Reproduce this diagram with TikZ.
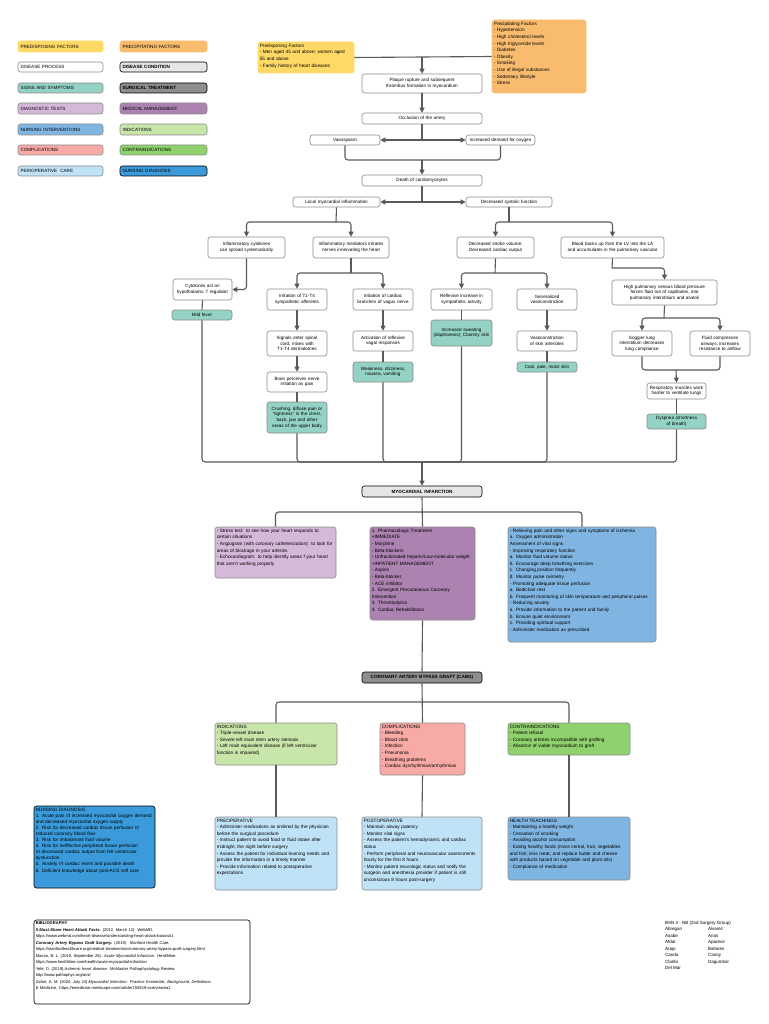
\documentclass[tikz,border=0pt]{standalone}
\usepackage{fontspec}
\setmainfont{Liberation Sans}
\usetikzlibrary{arrows.meta}
\definecolor{cPre}{HTML}{FFD966}
\definecolor{cPrec}{HTML}{F9BC6E}
\definecolor{cSS}{HTML}{93D2C4}
\definecolor{cDT}{HTML}{D5B9D9}
\definecolor{cMM}{HTML}{AC82B0}
\definecolor{cNI}{HTML}{80B5E2}
\definecolor{cInd}{HTML}{C8E6AA}
\definecolor{cCon}{HTML}{8FD16C}
\definecolor{cCom}{HTML}{F8ABA6}
\definecolor{cPeri}{HTML}{C0E2F6}
\definecolor{cND}{HTML}{3B9BDA}
\definecolor{cSur}{HTML}{8E8E8E}
\definecolor{cDC}{HTML}{E6E6E6}
\definecolor{cLine}{HTML}{5A5A5A}
\newcommand\nohy{\hyphenpenalty=10000 \exhyphenpenalty=10000 }
\newcommand\bx[7]{\pgfmathsetmacro\myw{#5-#3}\pgfmathsetmacro\myh{#6-#4}\pgfmathsetmacro\mytw{#5-#3-5}%
\node[box,#2,minimum width=\myw pt,minimum height=\myh pt,text width=\mytw pt] (#1) at ({(#3+#5)/2},{(#4+#6)/2}) {#7};}
\newcommand\lx[7]{\pgfmathsetmacro\myw{#5-#3}\pgfmathsetmacro\myh{#6-#4}\pgfmathsetmacro\mytw{#5-#3-5}%
\node[box,#2,minimum width=\myw pt,minimum height=\myh pt] (#1) at ({(#3+#5)/2},{(#4+#6)/2}) {};
\node[box,lfont,#2,draw=none,fill=none,align=left,anchor=north west,text width=\mytw pt] (#1t) at (#1.north west) {#7};}
\begin{document}
\begin{tikzpicture}[x=1pt,y=-1pt,
 box/.style={draw=cLine!70,line width=0.6pt,rounded corners=2.5pt,fill=white,inner sep=1.8pt,align=center,font={\fontsize{4.6}{5.6}\selectfont\nohy}},
 lfont/.style={font={\fontsize{4.7}{6.6}\selectfont\nohy}},
 leg/.style={box,align=left,font={\fontsize{4.6}{5}\selectfont}},
 ln/.style={draw=cLine,line width=1.1pt,rounded corners=3pt},
 arr/.style={ln,-{Triangle[length=5pt,width=5pt]}}]
\useasboundingbox[fill=white] (0,0) rectangle (768,1024);
% legend
\bx{l1}{leg,fill=cPre,draw=cPre}{18}{41}{103}{52}{PREDISPOSING FACTORS}
\bx{l2}{leg}{18}{62}{103}{72}{DISEASE PROCESS}
\bx{l3}{leg,fill=cSS}{18}{83}{103}{93}{SIGNS AND SYMPTOMS}
\bx{l4}{leg,fill=cDT}{18}{103}{103}{114}{DIAGNOSTIC TESTS}
\bx{l5}{leg,fill=cNI}{18}{124}{103}{135}{NURSING INTERVENTIONS}
\bx{l6}{leg,fill=cCom}{18}{145}{103}{155}{COMPLICATIONS}
\bx{l7}{leg,fill=cPeri}{18}{166}{103}{176}{PERIOPERATIVE\ \ CARE}
\bx{r1}{leg,fill=cPrec,draw=cPrec}{120}{41}{207}{52}{PRECIPITATING FACTORS}
\bx{r2}{leg,fill=cDC,draw=black}{120}{62}{207}{72}{\textbf{DISEASE CONDITION}}
\bx{r3}{leg,fill=cSur,draw=black}{120}{83}{207}{93}{\textbf{SURGICAL TREATMENT}}
\bx{r4}{leg,fill=cMM}{120}{103}{207}{114}{MEDICAL MANAGEMENT}
\bx{r5}{leg,fill=cInd}{120}{124}{207}{135}{INDICATIONS}
\bx{r6}{leg,fill=cCon}{120}{145}{207}{155}{CONTRAINDICATIONS}
\bx{r7}{leg,fill=cND,draw=black}{120}{166}{207}{176}{NURSING DIAGNOSIS}
% top
\lx{pre}{fill=cPre,draw=cPre}{258}{42}{354}{73}{Predisposing Factors\\- Men aged 45 and above; women aged 55 and above\\- Family history of heart diseases}
\lx{prec}{fill=cPrec,draw=cPrec}{492}{20}{586}{93}{Precipitating Factors\\- Hypertension\\- High cholesterol levels\\- High triglyceride levels\\- Diabetes\\- Obesity\\- Smoking\\- Use of illegal substances\\- Sedentary lifestyle\\- Stress}
\bx{plaque}{}{362}{74}{482}{93}{Plaque rupture and subsequent thrombus formation in myocardium}
\bx{occ}{}{362}{113}{482}{124}{Occlusion of the artery}
\bx{vas}{}{310}{135}{380}{145}{Vasospasm}
\bx{dem}{}{466}{135}{535}{145}{Increased demand for oxygen}
\bx{death}{}{362}{175}{482}{186}{Death of cardiomyocytes}
\bx{loc}{}{293}{197}{380}{207}{Local myocardial inflammation}
\bx{dsys}{}{466}{197}{552}{207}{Decreased systolic function}
\bx{ic}{}{208}{237}{285}{258}{Inflammatory cytokines can spread systematically}
\bx{med}{}{313}{237}{389}{258}{Inflammatory mediators irritates nerves innervating the heart}
\bx{cyto}{}{173}{279}{232}{300}{Cytokines act on hypothalamic T regulator}
\bx{fever}{fill=cSS}{172}{310}{232}{320}{Mild fever}
\bx{t1}{}{267}{289}{327}{310}{Irritation of T1-T4 sympathetic afferents}
\bx{sig}{}{267}{331}{327}{356}{Signals enter spinal cord, mixes with T1-T4 dermatomes}
\bx{brain}{}{267}{372}{327}{392}{Brain perceives nerve irritation as pain}
\bx{crush}{fill=cSS}{267}{402}{327}{433}{Crushing, diffuse pain or ``tightness'' in the chest, back, jaw and other areas of the upper body}
\bx{vag}{}{353}{289}{413}{310}{Irritation of cardiac branches of vagus nerve}
\bx{act}{}{353}{331}{413}{351}{Activation of reflexive vagal responses}
\bx{weak}{fill=cSS}{353}{362}{413}{382}{Weakness, dizziness, nausea, vomiting}
\bx{stroke}{}{457}{237}{534}{258}{Decreased stroke volume; Decreased cardiac output}
\bx{blood}{}{561}{237}{664}{258}{Blood backs up from the LV into the LA and accumulates in the pulmonary vascular}
\bx{refl}{}{431}{289}{492}{310}{Reflexive increase in sympathetic activity}
\bx{sweat}{fill=cSS}{431}{320}{492}{346}{Increased sweating (diaphoresis); Clammy skin}
\bx{gen}{}{517}{289}{577}{310}{Generalized vasoconstriction}
\bx{skin}{}{517}{331}{577}{351}{Vasoconstriction of skin arterioles}
\bx{cool}{fill=cSS}{517}{362}{577}{372}{Cool, pale, moist skin}
\bx{hp}{}{612}{280}{717}{305}{High pulmonary venous blood pressure forces fluid out of capillaries, into pulmonary interstitium and alveoli}
\bx{sog}{}{612}{331}{672}{356}{Soggier lung interstitium decreases lung compliance}
\bx{fluid}{}{690}{331}{750}{356}{Fluid compresses airways, increases resistance to airflow}
\bx{resp}{}{647}{383}{706}{399}{Respiratory muscles work harder to ventilate lungs}
\bx{dysp}{fill=cSS}{647}{414}{706}{429}{Dyspnea (shortness of breath)}
\bx{mi}{fill=cDC,draw=black}{362}{486}{482}{497}{\textbf{MYOCARDIAL INFARCTION}}
\lx{diag}{fill=cDT}{215}{527}{336}{578}{- Stress test: to see how your heart responds to certain situations\\- Angiogram (with coronary catheterization): to look for areas of blockage in your arteries\\- Echocardiogram: to help identify areas f your heart that aren't working properly}
\lx{medm}{fill=cMM}{370}{527}{475}{620}{1. Pharmacologic Treatment\\+IMMEDIATE\\- Morphine\\- Beta-blockers\\- Unfractionated heparin/Low-molecular weight\\+INPATIENT MANAGEMENT\\- Aspirin\\- Beta-blocker\\- ACE inhibitor\\2. Emergent Percutaneous Coronary Intervention\\3. Thrombolytics\\4. Cardiac Rehabilitation}
\lx{nint}{fill=cNI}{508}{527}{656}{642}{- Relieving pain and other signs and symptoms of ischemia\\a. Oxygen administration\\Assessment of vital signs\\- Improving respiratory function\\a. Monitor fluid volume status\\b. Encourage deep breathing exercises\\c. Changing position frequently\\d. Monitor pulse oximetry\\- Promoting adequate tissue perfusion\\a. Bedichair rest\\b. Frequent monitoring of skin temperature and peripheral pulses\\- Reducing anxiety\\a. Provide information to the patient and family\\b. Ensure quiet environment\\c. Providing spiritual support\\- Administer medication as prescribed}
\bx{cabg}{fill=cSur,draw=black}{362}{672}{482}{683}{\textbf{CORONARY ARTERY BYPASS GRAFT (CABG)}}
\lx{ind}{fill=cInd}{215}{723}{337}{765}{INDICATIONS\\- Triple-vessel disease\\- Severe left main stem artery stenosis\\- Left main equivalent disease (if left ventricular function is impaired)}
\lx{comp}{fill=cCom}{380}{723}{465}{775}{COMPLICATIONS\\- Bleeding\\- Blood clots\\- Infection\\- Pneumonia\\- Breathing problems\\- Cardiac dysrhythmias/arrhythmias}
\lx{contra}{fill=cCon}{508}{723}{630}{755}{CONTRAINDICATIONS\\- Patient refusal\\- Coronary arteries incompatible with grafting\\- Absence of viable myocardium to graft}
\lx{nd}{fill=cND,draw=black,font={\fontsize{4.7}{6.1}\selectfont\nohy}}{34}{806}{155}{888}{NURSING DIAGNOSIS\\1. Acute pain r/t increased myocardial oxygen demand and decreased myocardial oxygen supply\\2. Risk for decreased cardiac tissue perfusion r/t reduced coronary blood flow\\3. Risk for imbalanced fluid volume\\4. Risk for ineffective peripheral tissue perfusion r/t decreased cardiac output from left ventricular dysfunction\\5. Anxiety r/t cardiac event and possible death\\6. Deficient knowledge about post-ACS self care}
\lx{preop}{fill=cPeri}{215}{817}{337}{890}{PREOPERATIVE\\- Administer medications as ordered by the physician before the surgical procedure\\- Instruct patient to avoid food or fluid intake after midnight, the night before surgery\\- Assess the patient for individual learning needs and provide the information in a timely manner\\- Provide information related to postoperative expectations}
\lx{post}{fill=cPeri}{362}{817}{482}{890}{POSTOPERATIVE\\- Maintain airway patency\\- Monitor vital signs\\- Assess the patient's hemodynamic and cardiac status\\- Perform peripheral and neurovascular assessments hourly for the first 8 hours\\- Monitor patient neurologic status and notify the surgeon and anesthesia provider if patient is still unconscious 8 hours post-surgery}
\lx{health}{fill=cNI}{508}{817}{630}{880}{HEALTH TEACHINGS\\- Maintaining a healthy weight\\- Cessation of smoking\\- Avoiding alcohol consumption\\- Eating healthy foods (more cereal, fruit, vegetables and fish; less meat; and replace butter and cheese with products based on vegetable and plant oils)\\- Compliance of medication}
\lx{bib}{draw=black,font={\fontsize{4.1}{6.5}\selectfont\nohy}}{34}{920}{250}{1004}{\textbf{BIBLIOGRAPHY}\\\textbf{\textit{5 Must-Share Heart Attack Facts.}} (2012, March 12). WebMD.\\https://www.webmd.com/heart-disease/understanding-heart-attack-basics\#1\\\textit{\textbf{Coronary Artery Bypass Graft Surgery.}} (2019). Stanford Health Care.\\https://stanfordhealthcare.org/medical-treatments/c/coronary-artery-bypass-graft-surgery.html\\Mason, B. L. (2018, September 28). \textit{Acute Myocardial Infarction.} Healthline.\\https://www.healthline.com/health/acute-myocardial-infarction\\Yele, D. (2019).\textit{Ischemic heart disease.} McMaster Pathophysiology Review.\\http://www.pathophys.org/ami/\\Zafari, A. M. (2020, July 24).\textit{Myocardial Infarction: Practice Essentials, Background, Definitions.}\\E Medicine. https://emedicine.medscape.com/article/155919-overview\#a1}
\node[anchor=north west,align=left,inner sep=0,font=\fontsize{4.5}{6.5}\selectfont] (grp) at (665,921) {BSN 3 - NB (2nd Surgery Group)\\Abregan\\Asabe\\Afdal\\Arajo\\Canda\\Clarito\\Del Mar};
\node[anchor=north west,align=left,inner sep=0,font=\fontsize{4.5}{6.5}\selectfont] (grp2) at (708,927.5) {Alvarez\\Anas\\Aparece\\Ballares\\Canoy\\Dagumbal};
% coordinates
\coordinate (j0) at (422,57);
\coordinate (j1) at (422,140);
\coordinate (m1) at (422,160);
\coordinate (j2) at (422,202);
\coordinate (s1) at (336,222);
\coordinate (s2) at (351,273);
\coordinate (s3) at (509,222);
\coordinate (s4) at (495,273);
\coordinate (s5) at (612,268);
\coordinate (s6) at (664,318);
\coordinate (m2) at (676,370);
\coordinate (bus) at (422,462);
\coordinate (b2) at (422,512);
\coordinate (b3) at (422,702);
% connectors
\draw[ln] (pre.east) -- (prec.west);
\draw[arr] (j0) -- (plaque.north);
\draw[arr] (plaque.south) -- (occ.north);
\draw[ln] (occ.south) -- (j1);
\draw[arr] (j1) -- (vas.east);
\draw[arr] (j1) -- (dem.west);
\draw[ln] (vas.south) |- (m1) -| (dem.south);
\draw[arr] (m1) -- (death.north);
\draw[ln] (death.south) -- (j2);
\draw[arr] (j2) -- (loc.east);
\draw[arr] (j2) -- (dsys.west);
\draw[ln] (loc.south) -- (s1);
\draw[arr] (s1) -| (ic.north);
\draw[arr] (s1) -| (med.north);
\draw[arr] (ic.south) |- (cyto.east);
\draw[ln] (cyto.south) -- (fever.north);
\draw[ln] (med.south) -- (s2);
\draw[arr] (s2) -| (t1.north);
\draw[arr] (s2) -| (vag.north);
\draw[arr] (t1.south) -- (sig.north);
\draw[arr] (sig.south) -- (brain.north);
\draw[ln] (brain.south) -- (crush.north);
\draw[arr] (vag.south) -- (act.north);
\draw[ln] (act.south) -- (weak.north);
\draw[ln] (dsys.south) -- (s3);
\draw[arr] (s3) -| (stroke.north);
\draw[arr] (s3) -| (blood.north);
\draw[ln] (stroke.south) -- (s4);
\draw[arr] (s4) -| (refl.north);
\draw[arr] (s4) -| (gen.north);
\draw[ln] (refl.south) -- (sweat.north);
\draw[arr] (gen.south) -- (skin.north);
\draw[ln] (skin.south) -- (cool.north);
\draw[ln] (blood.south) -- (s5);
\draw[arr] (s5) -| (hp.north);
\draw[ln] (hp.south) -- (s6);
\draw[arr] (s6) -| (sog.north);
\draw[arr] (s6) -| (fluid.north);
\draw[ln] (sog.south) |- (m2) -| (fluid.south);
\draw[arr] (m2) -- (resp.north);
\draw[ln] (resp.south) -- (dysp.north);
\draw[ln] (fever.south) |- (bus);
\draw[ln] (crush.south) |- (bus);
\draw[ln] (weak.south) |- (bus);
\draw[ln] (sweat.south) |- (bus);
\draw[ln] (cool.south) |- (bus);
\draw[ln] (dysp.south) |- (bus);
\draw[arr] (bus) -- (mi.north);
\draw[ln] (mi.south) -- (medm.north);
\draw[ln] (diag.north) |- (b2) -| (nint.north);
\draw[ln] (medm.south) -- (cabg.north);
\draw[ln] (cabg.south) -- (comp.north);
\draw[ln] (ind.north) |- (b3) -| (contra.north);
\draw[ln] (ind.south) -- (preop.north);
\draw[ln] (comp.south) -- (post.north);
\draw[ln] (contra.south) -- (health.north);
\end{tikzpicture}
\end{document}
